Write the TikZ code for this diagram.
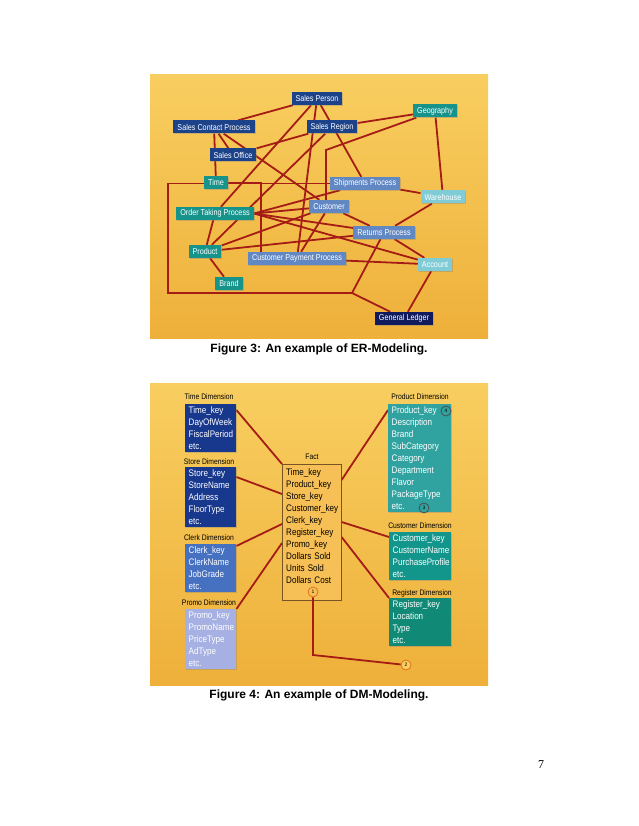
\documentclass[tikz,border=0pt]{standalone}
\usepackage{fontspec}
\setmainfont{Liberation Serif}
\setsansfont{Liberation Sans}
\newfontfamily\narrowsans[FakeStretch=0.85]{Liberation Sans}
\usetikzlibrary{positioning,shadows,backgrounds}

\definecolor{bgtop}{RGB}{248,206,96}
\definecolor{bgbot}{RGB}{238,176,58}
\definecolor{linkred}{RGB}{165,28,22}
\definecolor{erdark}{RGB}{28,66,138}
\definecolor{erteal}{RGB}{22,148,140}
\definecolor{ersteel}{RGB}{98,136,196}
\definecolor{erlight}{RGB}{128,204,214}
\definecolor{ernavy}{RGB}{16,26,92}
\definecolor{dimnavy}{RGB}{24,56,142}
\definecolor{dimclerk}{RGB}{70,112,192}
\definecolor{dimpromo}{RGB}{166,176,226}
\definecolor{dimprod}{RGB}{48,162,160}
\definecolor{dimcust}{RGB}{18,150,140}
\definecolor{dimreg}{RGB}{16,138,118}
\definecolor{factfill}{RGB}{246,192,86}
\definecolor{factline}{RGB}{120,84,34}
\definecolor{keyorange}{RGB}{226,112,28}

\begin{document}
\begin{tikzpicture}[x=1pt, y=-1pt,
  erbox/.style={fill=#1, text=white, font=\narrowsans\fontsize{8.5}{9}\selectfont, inner xsep=4pt, inner ysep=0pt, minimum height=13pt, drop shadow={shadow xshift=1pt, shadow yshift=-1pt, opacity=0.35}},
  dimbox/.style 2 args={fill=#1, text=white, anchor=north west, align=left, text width=#2, font=\narrowsans\fontsize{9.5}{12}\selectfont, inner xsep=3.5pt, inner ysep=2.5pt, drop shadow={shadow xshift=1pt, shadow yshift=-1pt, opacity=0.35}},
  dimlabel/.style={font=\narrowsans\fontsize{8}{9}\selectfont, inner sep=0pt},
  link/.style={draw=linkred, line width=1.8pt},
  keymark/.style={circle, draw=#1, line width=0.8pt, inner sep=0pt, minimum size=10pt, font=\sffamily\fontsize{5}{5}\selectfont},
  caption/.style={font=\sffamily\bfseries\fontsize{12}{14}\selectfont, anchor=base, inner sep=0pt}]
  \useasboundingbox (0,0) rectangle (638,826);

  % figure 3: ER model
  \node[erbox=erdark] (sp) at (317,98.5) {Sales Person};
  \node[erbox=erdark] (scp) at (214,127) {Sales Contact Process};
  \node[erbox=erdark] (sr) at (332,127) {Sales Region};
  \node[erbox=erteal] (geo) at (435,111) {Geography};
  \node[erbox=erdark] (so) at (233,155) {Sales Office};
  \node[erbox=erteal] (time) at (216,182.5) {Time};
  \node[erbox=ersteel] (ship) at (365,183.5) {Shipments Process};
  \node[erbox=erlight] (wh) at (443,197) {Warehouse};
  \node[erbox=ersteel] (cust) at (329,206.5) {Customer};
  \node[erbox=erteal] (otp) at (215,213.5) {Order Taking Process};
  \node[erbox=ersteel] (ret) at (384,232.5) {Returns Process};
  \node[erbox=erteal] (prod) at (205,251.5) {Product};
  \node[erbox=ersteel] (cpp) at (297,258.5) {Customer Payment Process};
  \node[erbox=erlight] (acct) at (435,264.5) {Account};
  \node[erbox=erteal] (brand) at (229,283.5) {Brand};
  \node[erbox=ernavy] (gl) at (404,318.5) {General Ledger};
  \coordinate (geobend) at (326,150);
  \coordinate (timebend) at (261,182.5);
  \coordinate (framebl) at (168,293);
  \coordinate (gljoin) at (352,293);

  % figure 4: DM model
  \node[dimlabel] (timelab) at (209,397) {Time Dimension};
  \node[dimbox={dimnavy}{44pt}] (timedim) at (185,404) {Time\_key\\DayOfWeek\\FiscalPeriod\\etc.};
  \node[dimlabel] (storelab) at (209,462) {Store Dimension};
  \node[dimbox={dimnavy}{44pt}] (storedim) at (185,467) {Store\_key\\StoreName\\Address\\FloorType\\etc.};
  \node[dimlabel] (clerklab) at (209,538) {Clerk Dimension};
  \node[dimbox={dimclerk}{44pt}] (clerkdim) at (185,544) {Clerk\_key\\ClerkName\\JobGrade\\etc.};
  \node[dimlabel] (promolab) at (209,603) {Promo Dimension};
  \node[dimbox={dimpromo}{44pt}] (promodim) at (185,609) {Promo\_key\\PromoName\\PriceType\\AdType\\etc.};

  \node[dimlabel] (factlab) at (312,457) {Fact};
  \node[fill=factfill, draw=factline, line width=0.6pt, anchor=north west, minimum width=59pt, minimum height=136pt, inner sep=0pt, drop shadow={shadow xshift=1pt, shadow yshift=-1pt, opacity=0.35}] (fact) at (282,464) {};
  \node[anchor=north west, align=left, text width=52pt, font=\narrowsans\fontsize{9.5}{12}\selectfont, inner xsep=4pt, inner ysep=4pt] (factkeys) at (fact.north west) {Time\_key\\Product\_key\\Store\_key\\Customer\_key\\Clerk\_key\\Register\_key\\Promo\_key\\Dollars Sold\\Units Sold\\Dollars Cost};
  \node[keymark=keyorange, fill=factfill] (key1) at (313,592) {1};

  \node[dimlabel] (prodlab) at (420,397) {Product Dimension};
  \node[dimbox={dimprod}{56pt}] (proddim) at (388,404) {Product\_key\\Description\\Brand\\SubCategory\\Category\\Department\\Flavor\\PackageType\\etc.};
  \node[keymark=black!70, fill=dimprod] (key4) at (446,411) {4};
  \node[keymark=black!70, fill=dimprod] (key3) at (424,508) {3};
  \node[dimlabel] (custlab) at (420,526) {Customer Dimension};
  \node[dimbox={dimcust}{55pt}] (custdim) at (389,532) {Customer\_key\\CustomerName\\PurchaseProfile\\etc.};
  \node[dimlabel] (reglab) at (422,593) {Register Dimension};
  \node[dimbox={dimreg}{55pt}] (regdim) at (389,598) {Register\_key\\Location\\Type\\etc.};
  \node[keymark=keyorange, fill=bgtop] (key2) at (406,665) {2};
  \coordinate (keybend) at (313,655);

  \node[caption] (cap3) at (319,352) {Figure 3: An example of ER-Modeling.};
  \node[caption] (cap4) at (319,698) {Figure 4: An example of DM-Modeling.};
  \node[font=\fontsize{12}{14}\selectfont, anchor=base, inner sep=0pt] (pagenum) at (541,768) {7};

  \begin{scope}[on background layer]
    \fill[white] (0,0) rectangle (638,826);
    \shade[top color=bgtop, bottom color=bgbot] (150,75) rectangle (488,338);
    \shade[top color=bgtop, bottom color=bgbot] (150,383) rectangle (488,685);

    \draw[link] (scp) -- (sp);
    \draw[link] (scp) -- (so);
    \draw[link] (scp) -- (time);
    \draw[link] (scp) -- (cust);
    \draw[link] (so) -- (sr);
    \draw[link] (sp) -- (otp);
    \draw[link] (sp) -- (ship);
    \draw[link] (sp) -- (cpp);
    \draw[link] (sr) -- (geo);
    \draw[link] (sr) -- (prod);
    \draw[link] (geo) -- (geobend) -- (geobend |- cust.north);
    \draw[link] (geo) -- (wh);
    \draw[link] (ship) -- (wh);
    \draw[link] (wh) -- (ret);
    \draw[link] (ret) -- (acct);
    \draw[link] (ret) -- (gljoin) -- (gl);
    \draw[link] (acct) -- (gl);
    \draw[link] (cpp) -- (acct);
    \draw[link] (otp) -- (prod);
    \draw[link] (prod) -- (brand);
    \draw[link] (prod) -- (ret);
    \draw[link] (prod) -- (cust);
    \draw[link] (otp.east) -- (ship);
    \draw[link] (otp.east) -- (cust);
    \draw[link] (otp.east) -- (acct);
    \draw[link] (otp.east) -- (ret);
    \draw[link] (time) -- (timebend) -- (timebend |- cpp.north);
    \draw[link] (ship.west) -| (framebl) -- (gljoin);
    \draw[link] (cust) -- (ret);
    \draw[link] (cust) -- (cpp);

    \draw[link] ([yshift=-6pt]timedim.north east) -- (fact.north west);
    \draw[link] ([yshift=-10pt]storedim.north east) -- ([yshift=-30pt]fact.north west);
    \draw[link] ([yshift=-2pt]clerkdim.north east) -- ([yshift=-60pt]fact.north west);
    \draw[link] (promodim.north east) -- ([yshift=-79pt]fact.north west);
    \draw[link] ([yshift=-16pt]fact.north east) -- ([yshift=-6pt]proddim.north west);
    \draw[link] ([yshift=-58pt]fact.north east) -- ([yshift=-5pt]custdim.north west);
    \draw[link] ([yshift=-73pt]fact.north east) -- (regdim.north west);
  \end{scope}
  \draw[link] (key1) -- (keybend) -- (key2);
\end{tikzpicture}
\end{document}
